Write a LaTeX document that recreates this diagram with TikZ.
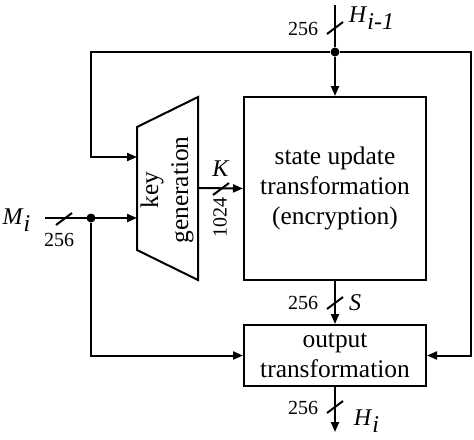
\documentclass[tikz,border=0pt]{standalone}
\usepackage{fontspec}
\setmainfont{Liberation Serif}
\usetikzlibrary{arrows.meta,positioning}
\tikzset{blk/.style={draw=black,line width=1pt,align=center,inner sep=0pt}}
\tikzset{dot/.style={circle,fill=black,inner sep=0pt,minimum size=4.5pt}}
\tikzset{wire/.style={line width=1pt}}
\tikzset{num/.style={font=\fontsize{10}{12}\selectfont,inner sep=1pt}}
\tikzset{lbl/.style={font=\fontsize{12}{14}\selectfont,inner sep=1pt}}
\newcommand{\Itxt}[2]{\textit{#1}$_{\textit{#2}}$}

\begin{document}
\begin{tikzpicture}[x=0.5pt,y=-0.5pt,>={Triangle[length=5pt,width=4pt]},font=\fontsize{12.7}{15}\selectfont]
\useasboundingbox (0,0) rectangle (474,439);
% \draw[help lines] (0,0) grid (474,439);
\node (st) [blk,minimum width=91pt,minimum height=91.5pt] at (335,188.5) {state update\\transformation\\(encryption)};
\node (out) [blk,minimum width=91pt,minimum height=30.5pt] at (335,355.5) {output\\transformation};
%
\draw[wire] (137,127) coordinate (kg1) -- (198,97) coordinate (kg2) -- (198,280) coordinate (kg3) -- (137,250) coordinate (kg4) -- cycle;
\node (kg) [align=center,rotate=90] at (167,190) {key\\generation};
\coordinate (kgin1) at (137,157);
\coordinate (kgin2) at (137,218);
\coordinate (kgout) at (198,188);
%
\coordinate (hin) at (335,5);
\node (dtop) [dot] at (335,52) {};
\coordinate (ctl) at (91,52);
\coordinate (ctr) at (471,52);
\coordinate (min) at (45,218);
\node (dm) [dot] at (91,218) {};
\coordinate (hout) at (335,432);
%
\path[wire](hin) edge (dtop);
\path[->,wire](dtop) edge (st.north);
\draw[->,wire] (dtop) -- (ctl) |- (kgin1);
\draw[->,wire] (dtop) -- (ctr) |- (out.east);
\path[->,wire](min) edge (kgin2);
\draw[->,wire] (dm) |- (out.west);
\path[->,wire](kgout) edge (st.west);
\path[->,wire](st.south) edge (out.north);
\path[->,wire](out.south) edge (hout);
%
\coordinate (s1) at (335,28);
\coordinate (s2) at (64,219);
\coordinate (s3) at (221,189);
\coordinate (s4) at (335,303);
\coordinate (s5) at (335,407);
\foreach \s in {s1,s2,s3,s4,s5}
  \draw[wire] (\s) ++(-8,6) -- ++(16,-12);
%
\node (mi) [lbl] at (17,220) {\Itxt{M}{i}};
\node (n1) [num] at (303,29) {256};
\node (h1) [lbl] at (372,18) {\Itxt{H}{i-1}};
\node (n2) [num] at (59,240) {256};
\node (k) [lbl] at (221,169) {\textit{K}};
\node (n3) [num,rotate=90] at (220,217) {1024};
\node (n4) [num] at (303,303) {256};
\node (s) [lbl] at (355,303) {\textit{S}};
\node (n5) [num] at (303,408) {256};
\node (h2) [lbl] at (367,421) {\Itxt{H}{i}};
\end{tikzpicture}
\end{document}
